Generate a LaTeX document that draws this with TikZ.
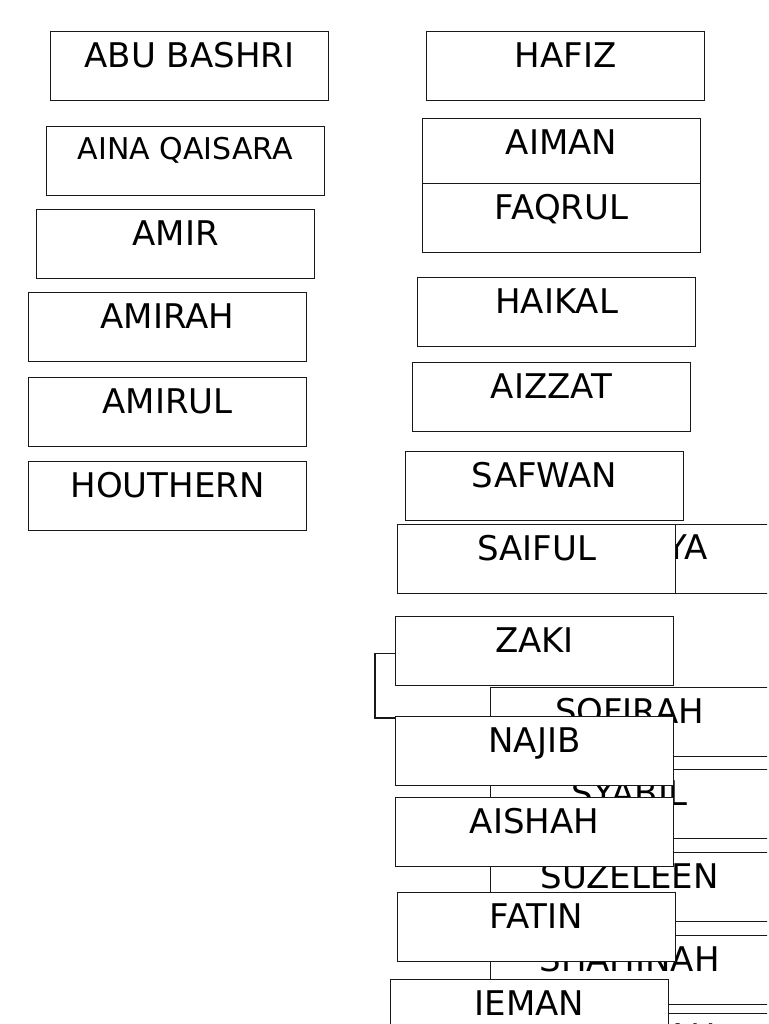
\documentclass[tikz,border=0pt]{standalone}
\usepackage{fontspec}
\setmainfont{DejaVu Sans}
\usetikzlibrary{positioning}

\begin{document}
\begin{tikzpicture}[x=1pt,y=-1pt,
        namebox/.style={draw=black!90,line width=1.1pt,fill=white,anchor=north west,
            minimum width=278pt,inner xsep=0pt,inner ysep=10.5pt,
            text height=25pt,text depth=23pt,font=\fontsize{34}{40}\selectfont},
        smallbox/.style={namebox,inner ysep=11pt,text height=22pt,text depth=25pt,
            font=\fontsize{30}{36}\selectfont},
        nametext/.style={anchor=base east,inner sep=0pt,font=\fontsize{34}{40}\selectfont},
        link/.style={draw=black!90,line width=1.1pt}]
                \useasboundingbox (0,0) rectangle (768,1024);
                \clip (0,0) rectangle (767,1024);

                \node[namebox] (abu) at (50,31) {ABU BASHRI};
                \node[smallbox] (aina) at (46,126) {AINA QAISARA};
                \node[namebox] (amir) at (36,209) {AMIR};
                \node[namebox] (amirah) at (28,292) {AMIRAH};
                \node[namebox] (amirul) at (28,377) {AMIRUL};
                \node[namebox] (houthern) at (28,461) {HOUTHERN};

                \node[namebox] (hafiz) at (426,31) {HAFIZ};
                \node[namebox] (aiman) at (422,118) {AIMAN};
                \node[namebox] (faqrul) at (422,183) {FAQRUL};
                \node[namebox] (haikal) at (417,277) {HAIKAL};
                \node[namebox] (aizzat) at (412,362) {AIZZAT};
                \node[namebox] (safwan) at (405,451) {SAFWAN};

                \node[namebox] (yabox) at (490,524) {};
                \node[nametext] (yatext) at (708,559) {YA};
                \node[namebox] (saiful) at (397,524) {SAIFUL};

                \node[namebox] (sofirah) at (490,687) {SOFIRAH};
                \node[namebox] (syabil) at (490,769) {SYABIL};
                \node[namebox] (suzeleen) at (490,852) {SUZELEEN};
                \node[namebox] (shahinah) at (490,935) {SHAHINAH};
                \node[namebox] (ahbox) at (490,1013) {};
                \node[nametext] (ahtext) at (716,1048) {AH};

                \node[namebox] (zaki) at (395,616) {ZAKI};
                \coordinate (zakiend) at (395,718);
                \draw[link] ([yshift=-2pt]zaki.west) -- ++(-20,0) |- (zakiend);
                \node[namebox] (najib) at (395,716) {NAJIB};
                \node[namebox] (aishah) at (395,797) {AISHAH};
                \node[namebox] (fatin) at (397,892) {FATIN};
                \node[namebox] (ieman) at (390,979) {IEMAN};

            \end{tikzpicture}
\end{document}
